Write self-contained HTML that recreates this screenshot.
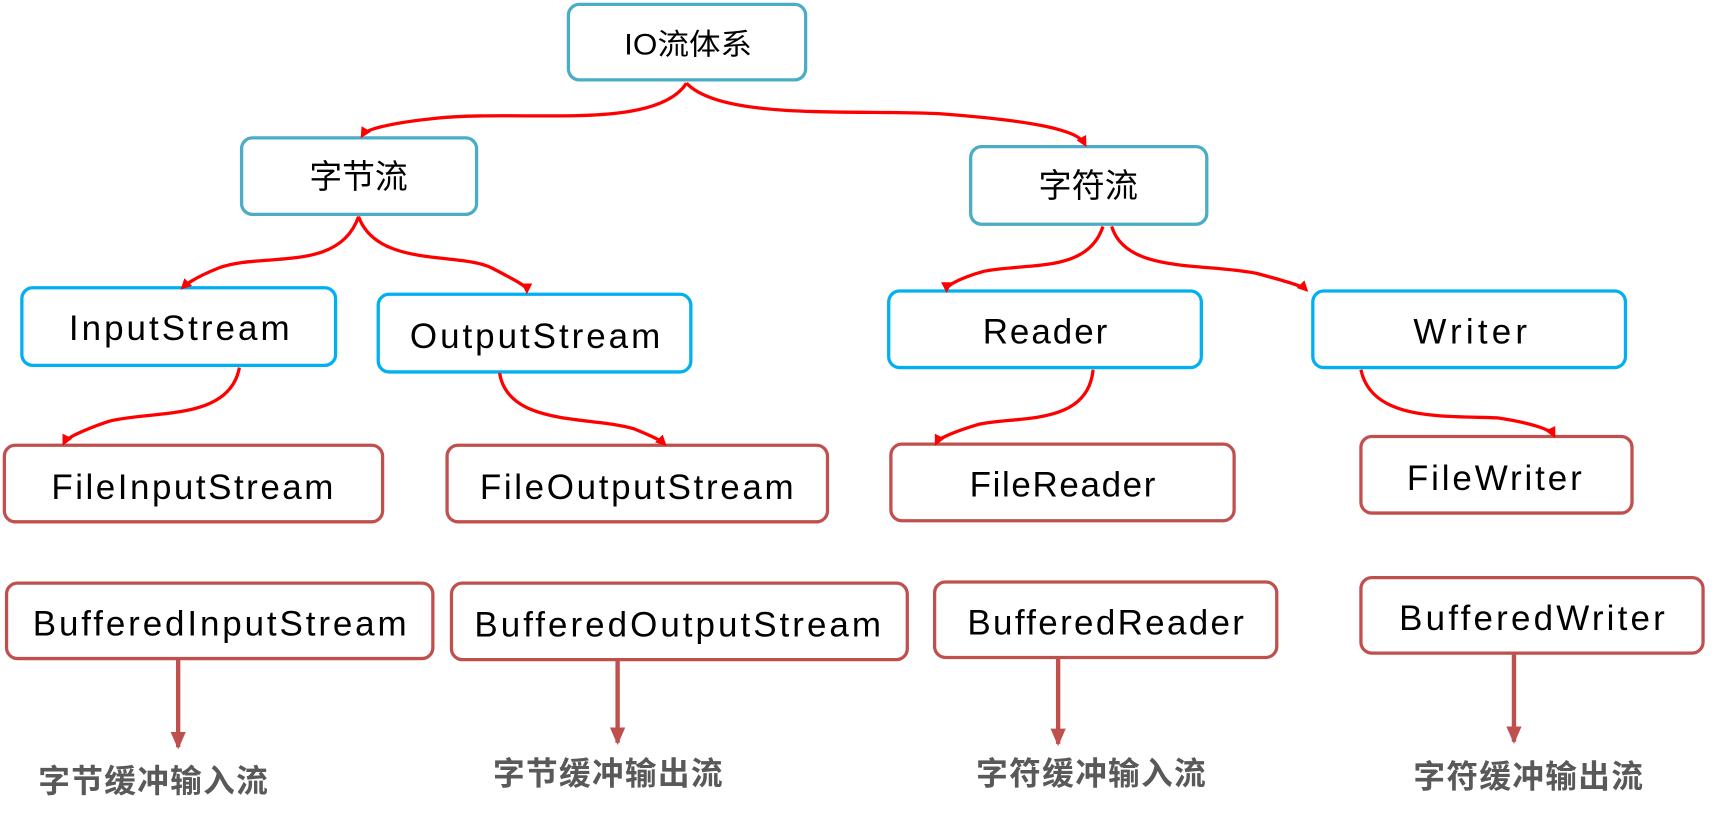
<!DOCTYPE html>
<html><head><meta charset="utf-8"><style>
html,body{margin:0;padding:0;background:#fff;width:1714px;height:815px;overflow:hidden}
svg text{font-family:"Liberation Sans","Noto Sans CJK SC",sans-serif}
</style></head><body>
<svg width="1714" height="815" viewBox="0 0 1568 745" preserveAspectRatio="none" xmlns="http://www.w3.org/2000/svg">
<defs>
<marker id="ra" markerWidth="10" markerHeight="10" refX="6" refY="5" orient="auto" markerUnits="userSpaceOnUse"><path d="M0,0 L10,5 L0,10 z" fill="#f00"/></marker>
<marker id="da" markerWidth="14" markerHeight="16" refX="7" refY="14" orient="0" markerUnits="userSpaceOnUse"><path d="M0,0 L14,0 L7,16 z" fill="#C0504D"/></marker>
</defs>
<g fill="#fff" stroke-width="3">
<rect x="520" y="4" width="217" height="69" rx="10" stroke="#4BACC6"/>
<rect x="221" y="126" width="215" height="70" rx="10" stroke="#4BACC6"/>
<rect x="888" y="134" width="216" height="71" rx="10" stroke="#4BACC6"/>
<rect x="20" y="263" width="287" height="71" rx="10" stroke="#00B0F0"/>
<rect x="346" y="269" width="286" height="71" rx="10" stroke="#00B0F0"/>
<rect x="813" y="266" width="286" height="70" rx="10" stroke="#00B0F0"/>
<rect x="1201" y="266" width="286" height="70" rx="10" stroke="#00B0F0"/>
<rect x="4" y="407" width="346" height="70" rx="10" stroke="#C0504D"/>
<rect x="409" y="407" width="348" height="70" rx="10" stroke="#C0504D"/>
<rect x="815" y="406" width="314" height="70" rx="10" stroke="#C0504D"/>
<rect x="1245" y="399" width="248" height="70" rx="10" stroke="#C0504D"/>
<rect x="6" y="533" width="390" height="69" rx="10" stroke="#C0504D"/>
<rect x="413" y="533" width="417" height="70" rx="10" stroke="#C0504D"/>
<rect x="855" y="532" width="313" height="69" rx="10" stroke="#C0504D"/>
<rect x="1245" y="528" width="313" height="69" rx="10" stroke="#C0504D"/>
</g>
<g fill="none" stroke="#f00" stroke-width="3" marker-end="url(#ra)">
<path d="M628,76 C600,120 480,100 400,108 C360,112 335,118 332,123"/>
<path d="M628,76 C660,110 780,100 860,104 C940,110 985,118 992,131"/>
<path d="M328,198 C310,250 240,230 200,245 C175,255 168,262 168,262"/>
<path d="M328,198 C345,245 420,230 450,245 C475,258 482,262 482,265"/>
<path d="M1009,207 C995,250 940,240 900,248 C875,255 866,262 866,264"/>
<path d="M1017,207 C1030,250 1100,240 1150,250 C1180,258 1192,262 1194,264"/>
<path d="M219,336 C210,385 140,375 100,385 C70,395 60,402 59,404"/>
<path d="M457,341 C465,390 540,380 580,392 C600,400 606,404 607,405"/>
<path d="M1000,338 C995,390 930,380 895,388 C868,396 858,402 857,404"/>
<path d="M1245,338 C1255,385 1320,380 1370,382 C1410,388 1420,395 1421,397"/>
</g>
<g stroke="#C0504D" stroke-width="4" marker-end="url(#da)">
<line x1="163" y1="603" x2="163" y2="683"/>
<line x1="565" y1="604" x2="565" y2="679"/>
<line x1="968" y1="602" x2="968" y2="680"/>
<line x1="1385" y1="598" x2="1385" y2="678"/>
</g>
<g fill="#000">
<text x="571" y="50" font-size="27" textLength="117" lengthAdjust="spacingAndGlyphs">IO流体系</text>
<text x="283" y="172" font-size="30" textLength="90" lengthAdjust="spacingAndGlyphs">字节流</text>
<text x="950" y="180" font-size="30" textLength="91" lengthAdjust="spacingAndGlyphs">字符流</text>
<g font-size="32" lengthAdjust="spacingAndGlyphs">
<text x="63" y="311" textLength="202">InputStream</text>
<text x="375" y="318" textLength="229">OutputStream</text>
<text x="899" y="314" textLength="114">Reader</text>
<text x="1293" y="314" textLength="104">Writer</text>
<text x="47" y="456" textLength="258">FileInputStream</text>
<text x="439" y="456" textLength="287">FileOutputStream</text>
<text x="887" y="454" textLength="170">FileReader</text>
<text x="1287" y="448" textLength="160">FileWriter</text>
<text x="30" y="581" textLength="342">BufferedInputStream</text>
<text x="434" y="582" textLength="372">BufferedOutputStream</text>
<text x="885" y="580" textLength="253">BufferedReader</text>
<text x="1280" y="576" textLength="243">BufferedWriter</text>
</g>
<g font-size="29" font-weight="bold" fill="#595959" lengthAdjust="spacingAndGlyphs">
<text x="35" y="724" textLength="210">字节缓冲输入流</text>
<text x="451" y="717" textLength="210">字节缓冲输出流</text>
<text x="893" y="717" textLength="210">字符缓冲输入流</text>
<text x="1293" y="720" textLength="210">字符缓冲输出流</text>
</g>
</g>
</svg>
</body></html>
